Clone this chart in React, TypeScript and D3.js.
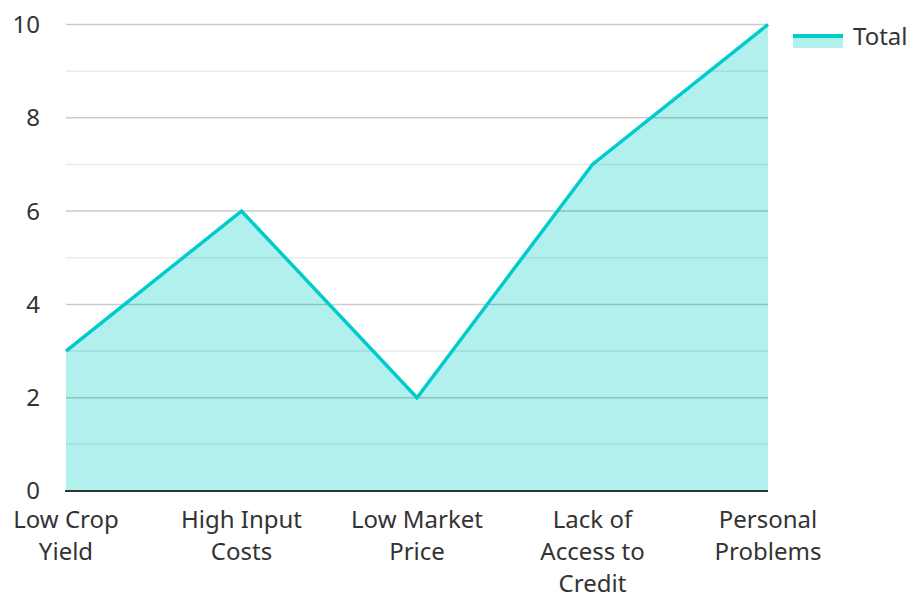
import React from "react";
import * as d3 from "d3";

const categories: string[][] = [
  ["Low Crop", "Yield"],
  ["High Input", "Costs"],
  ["Low Market", "Price"],
  ["Lack of", "Access to", "Credit"],
  ["Personal", "Problems"],
];
const totals: number[] = [3, 6, 2, 7, 10];
const majorTicks: number[] = [0, 2, 4, 6, 8, 10];
const minorTicks: number[] = [1, 3, 5, 7, 9];
const seriesName = "Total";

const W = 909;
const H = 596;
const FONT = "'Noto Sans', 'Open Sans', sans-serif";
const LINE = "#00CCCC";
const FS = 24;

export default function App() {
  const x = d3.scalePoint<number>().domain(d3.range(categories.length)).range([66, 768]);
  const y = d3.scaleLinear().domain([0, 10]).range([491, 24.5]);
  const area = d3
    .area<number>()
    .x((_, i) => x(i)!)
    .y0(y(0))
    .y1((d) => y(d));
  const line = d3
    .line<number>()
    .x((_, i) => x(i)!)
    .y((d) => y(d));

  return (
    <svg
      width={W}
      height={H}
      style={{ position: "absolute", left: 0, top: 0, fontFamily: FONT }}
    >
      <rect width={W} height={H} fill="#fff" />
      <path d={area(totals)!} fill="#b2f0ee" />
      {minorTicks.map((t) => (
        <line key={"mi" + t} x1={66} x2={768} y1={y(t)} y2={y(t)} stroke="#000" strokeOpacity={0.08} strokeWidth={1.5} />
      ))}
      {majorTicks.filter((t) => t !== 0).map((t) => (
        <line key={"ma" + t} x1={66} x2={768} y1={y(t)} y2={y(t)} stroke="#000" strokeOpacity={0.2} strokeWidth={1.5} />
      ))}
      <path d={line(totals)!} fill="none" stroke={LINE} strokeWidth={3.5} strokeLinejoin="miter" />
      <line x1={65} x2={768} y1={y(0)} y2={y(0)} stroke="#333" strokeWidth={2} />
      {majorTicks.map((t) => (
        <text key={"yt" + t} x={40} y={y(t)} dy="0.35em" textAnchor="end" fontSize={FS} fill="#333">
          {t}
        </text>
      ))}
      {categories.map((lines, i) => (
        <text key={"xl" + i} x={x(i)} y={528} textAnchor="middle" fontSize={FS} fill="#333">
          {lines.map((l, j) => (
            <tspan key={j} x={x(i)} dy={j === 0 ? 0 : 32}>
              {l}
            </tspan>
          ))}
        </text>
      ))}
      <rect x={793} y={36} width={50} height={12} fill="#b2f0ee" />
      <line x1={793} x2={843} y1={36} y2={36} stroke={LINE} strokeWidth={4} />
      <text x={853} y={45} fontSize={FS} fill="#333">
        {seriesName}
      </text>
    </svg>
  );
}
